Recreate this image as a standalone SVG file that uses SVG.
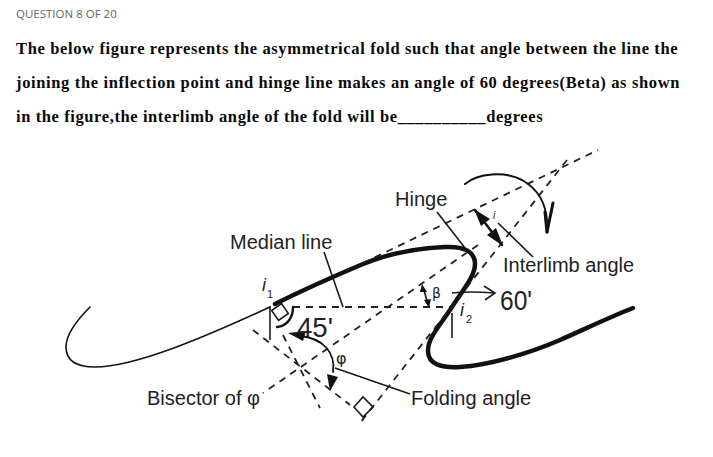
<svg xmlns="http://www.w3.org/2000/svg" width="713" height="457" viewBox="0 0 713 457">
<style>
.q{font-family:"Liberation Serif","Times New Roman",serif;font-weight:700;font-size:16.5px;fill:#0a0a0a;letter-spacing:.64px}
.l{font-family:"Liberation Sans",Arial,sans-serif;font-size:20px;fill:#222}
.g{font-family:"DejaVu Sans",sans-serif;fill:#222}
.h{font-family:"Liberation Sans",Arial,sans-serif;fill:#222}
.i{font-family:"Liberation Sans",Arial,sans-serif;font-style:italic;fill:#222}
.d{fill:none;stroke:#222;stroke-width:1.8;stroke-dasharray:7 6}
.t{fill:none;stroke:#1a1a1a;stroke-width:1.6}
.b{fill:none;stroke:#111;stroke-linecap:round;stroke-linejoin:round}
.a{fill:#111;stroke:none}
</style>
<rect width="713" height="457" fill="#fff"/>
<g id="question">
<text x="16" y="18" font-family="'Open Sans',sans-serif" font-size="11.5" fill="#666">QUESTION 8 OF 20</text>
<text class="q" x="16" y="54">The below figure represents the asymmetrical fold such that angle between the line the</text>
<text class="q" x="16" y="88">joining the inflection point and hinge line makes an angle of 60 degrees(Beta) as shown</text>
<text class="q" x="16" y="122" style="letter-spacing:.6px">in the figure,the interlimb angle of the fold will be__________degrees</text>
</g>
<g id="fold">
<path class="b" stroke-width="1.6" d="M90 307C76 321 66 336 66 347C66 362 78 367 95 367C135 367 205 337 270 307"/>
<path class="b" stroke-width="4.5" d="M275 304C303 290 330 278 363 264C390 253 420 248 445 247C465 246 475 252 475 264C475 277 462 291 450 310C438 328 428 338 428 351C428 365 443 368 460 367C490 365 530 353 560 340C585 329 610 317 633 308"/>
</g>
<g id="connectors">
<path class="d" d="M363 263L598 150"/>
<path class="d" d="M567 160L360 423"/>
<path class="d" d="M478 245L263 393"/>
<path class="d" d="M293 307H450"/>
<path class="d" d="M253 330L350 405"/>
<path class="d" d="M283 335L320 408"/>
<path class="t" d="M270 306V340"/>
<path class="t" d="M324 252L343 307"/>
<path class="t" d="M437 212L465 248"/>
<path class="t" d="M498 223L533 257"/>
<path class="t" d="M335 368L410 394"/>
<path class="t" d="M452 313V338"/>
</g>
<g id="angle-marks">
<path class="t" stroke-width="2" transform="rotate(-35 280 312)" d="M274 306h12v12h-12z"/>
<path class="b" stroke-width="2.4" d="M293 307C293 318 287 326 277 327"/>
<path class="b" stroke-width="1.8" d="M300 336C322 338 336 352 333 372"/>
<path class="a" d="M288 333L306 331L303 341Z"/>
<path class="a" d="M330 391L327 374L338 377Z"/>
<path class="t" stroke-width="2" d="M354 407l9-10l10 10l-10 10z"/>
<path class="b" stroke-width="2.4" d="M475 210L502 245"/>
<path class="a" d="M474 209L490 219L481 226Z"/>
<path class="a" d="M503 246L487 235L496 228Z"/>
<path class="b" stroke-width="2" d="M465 184C478 173 505 171 522 180C538 189 546 202 547 222"/>
<path class="b" stroke-width="3" d="M547 232L553 203"/>
<path class="b" stroke-width="3" d="M547 232L545 212"/>
<path class="t" d="M424 290L428 305"/>
<path class="a" d="M422 284L427 292L420 292Z"/>
<path class="a" d="M429 308L424 300L431 299Z"/>
<path class="t" d="M452 293C470 291 480 292 495 293M484 286L495 293L485 300"/>
</g>
<g id="labels">
<text class="l" x="395" y="206">Hinge</text>
<text class="l" x="230" y="249">Median line</text>
<text class="l" x="503" y="272">Interlimb angle</text>
<text class="l" x="147" y="405">Bisector of φ</text>
<text class="l" x="411" y="405">Folding angle</text>
<text class="g" x="336" y="364" style="font-size:16px">φ</text>
<text class="g" x="432" y="298" style="font-size:14px">β</text>
<text class="i" x="262" y="291" style="font-size:18px">i</text><text class="h" x="267" y="298" style="font-size:11px">1</text>
<text class="i" x="460" y="316" style="font-size:18px">i</text><text class="h" x="466" y="323" style="font-size:11px">2</text>
<text class="i" x="493" y="219" style="font-size:10px">i</text>
<text class="h" x="297" y="337" style="font-size:27px" textLength="36" lengthAdjust="spacingAndGlyphs">45'</text>
<text class="h" x="500" y="310" style="font-size:28px" textLength="32" lengthAdjust="spacingAndGlyphs">60'</text>
</g>
</svg>
